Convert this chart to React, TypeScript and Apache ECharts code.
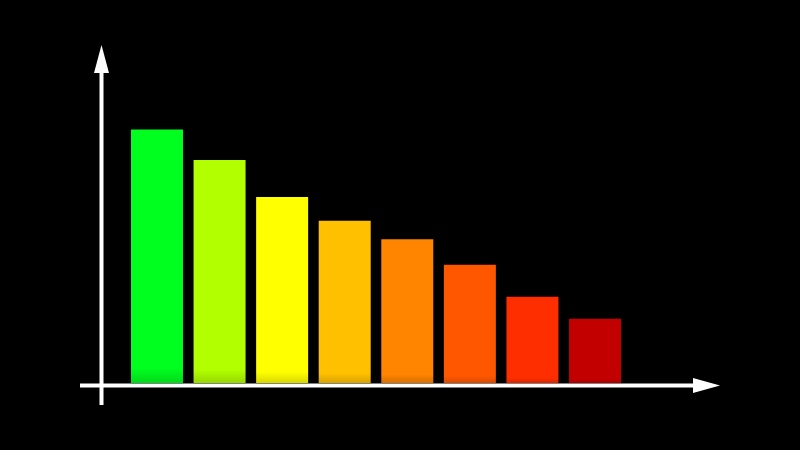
import React, { useEffect, useRef } from "react";
import * as echarts from "echarts";

const categories = ["1", "2", "3", "4", "5", "6", "7", "8"];
const values = [7.5, 6.6, 5.5, 4.8, 4.25, 3.5, 2.55, 1.9];
const barColors = ["#00FF1E", "#B2FF00", "#FFFF00", "#FFC000", "#FF8400", "#FF5700", "#FF2E00", "#C20000"];

function darken(hex: string, f: number) {
  const n = parseInt(hex.slice(1), 16);
  const r = Math.round(((n >> 16) & 255) * f);
  const g = Math.round(((n >> 8) & 255) * f);
  const b = Math.round((n & 255) * f);
  return `rgb(${r},${g},${b})`;
}

export default function App() {
  const ref = useRef<HTMLDivElement>(null);
  useEffect(() => {
    document.body.style.margin = "0";
    document.body.style.background = "#000";
    const chart = echarts.init(ref.current!, null, { renderer: "svg" });
    chart.setOption({
      animation: false,
      backgroundColor: "#000000",
      grid: { left: 125.7, right: 173.7, top: 45, bottom: 67 },
      xAxis: {
        type: "category",
        data: categories,
        axisLine: { show: false },
        axisTick: { show: false },
        axisLabel: { show: false },
      },
      yAxis: {
        type: "value",
        min: 0,
        max: 10,
        axisLine: { show: false },
        axisTick: { show: false },
        axisLabel: { show: false },
        splitLine: { show: false },
      },
      series: [
        {
          type: "bar",
          barWidth: 52,
          data: values.map((v, i) => ({
            value: v,
            itemStyle: {
              color: {
                type: "linear",
                x: 0,
                y: 0,
                x2: 0,
                y2: 1,
                colorStops: [
                  { offset: 0, color: barColors[i] },
                  { offset: 0.94, color: barColors[i] },
                  { offset: 1, color: darken(barColors[i], 0.85) },
                ],
              },
            },
          })),
        },
      ],
      graphic: [
        { type: "rect", shape: { x: 99.5, y: 68, width: 4, height: 337 }, style: { fill: "#fff" }, z: 10 },
        { type: "polygon", shape: { points: [[101.5, 45], [94, 73], [109, 73]] }, style: { fill: "#fff" }, z: 10 },
        { type: "rect", shape: { x: 80, y: 383.5, width: 616, height: 4 }, style: { fill: "#fff" }, z: 10 },
        { type: "polygon", shape: { points: [[720, 385.5], [693, 378], [693, 393]] }, style: { fill: "#fff" }, z: 10 },
      ],
    });
    return () => chart.dispose();
  }, []);
  return (
    <div
      ref={ref}
      style={{ position: "absolute", left: 0, top: 0, width: 800, height: 450, background: "#000" }}
    />
  );
}
